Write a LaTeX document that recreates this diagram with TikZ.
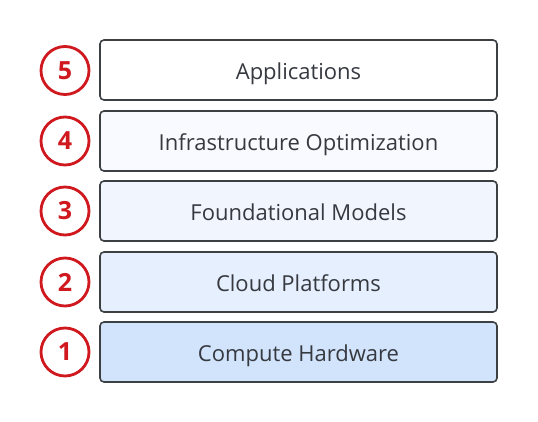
\documentclass[tikz,border=0pt]{standalone}
\usepackage{fontspec}
\setmainfont{Open Sans}
\definecolor{edge}{HTML}{3C4043}
\definecolor{txt}{HTML}{36393F}
\definecolor{numred}{HTML}{D0181F}
\definecolor{f5}{HTML}{FFFFFF}
\definecolor{f4}{HTML}{F8FAFF}
\definecolor{f3}{HTML}{F1F5FE}
\definecolor{f2}{HTML}{E6EFFD}
\definecolor{f1}{HTML}{D2E3FC}
\begin{document}
\begin{tikzpicture}[x=1pt,y=-1pt,
  layer/.style={draw=edge,line width=1.6pt,rounded corners=4pt,minimum width=397pt,minimum height=60pt,inner sep=0pt,text height=19pt,text depth=0pt,font=\fontsize{22}{26}\selectfont,text=txt},
  num/.style={circle,draw=numred,line width=2.8pt,minimum size=48pt,inner sep=0pt,text=numred,font=\fontsize{25}{30}\selectfont\bfseries}]
\useasboundingbox (0,0) rectangle (538,422);
\node[layer,fill=f5] (l5) at (298.5,70) {Applications};
\node[layer,fill=f4] (l4) at (298.5,141) {Infrastructure Optimization};
\node[layer,fill=f3] (l3) at (298.5,211) {Foundational Models};
\node[layer,fill=f2] (l2) at (298.5,282) {Cloud Platforms};
\node[layer,fill=f1] (l1) at (298.5,352) {Compute Hardware};
\node[num] (n5) at (65,70.5) {5};
\node[num] (n4) at (65,141) {4};
\node[num] (n3) at (65,211) {3};
\node[num] (n2) at (65,282) {2};
\node[num] (n1) at (65,352) {1};
\end{tikzpicture}
\end{document}
